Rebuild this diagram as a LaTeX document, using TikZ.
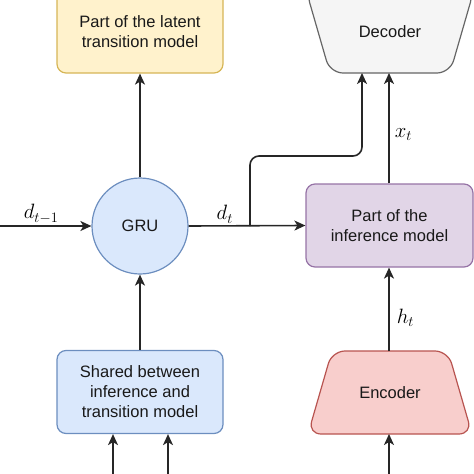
\documentclass[tikz,border=0pt]{standalone}
\usepackage{fontspec}
\setmainfont{Liberation Sans}
\usetikzlibrary{arrows.meta}
\definecolor{yelF}{HTML}{FFF2CC}\definecolor{yelD}{HTML}{D6B656}
\definecolor{bluF}{HTML}{DAE8FC}\definecolor{bluD}{HTML}{6C8EBF}
\definecolor{purF}{HTML}{E1D5E7}\definecolor{purD}{HTML}{9673A6}
\definecolor{redF}{HTML}{F8CECC}\definecolor{redD}{HTML}{B85450}
\definecolor{gryF}{HTML}{F5F5F5}\definecolor{gryD}{HTML}{666666}
\begin{document}
\begin{tikzpicture}[x=1pt,y=1pt,
  txt/.style={font=\fontsize{16.5}{20}\selectfont, align=center, text=black!90},
  box/.style={txt, draw, line width=1.2pt, rounded corners=9pt, minimum width=166pt, minimum height=83pt},
  trap/.style={line width=1.2pt, rounded corners=13pt},
  lab/.style={font=\fontsize{21}{24}\selectfont, inner sep=2pt},
  conn/.style={line width=1.6pt, draw=black!85, -{Stealth[length=11pt,width=10pt,inset=3pt]}},
  line/.style={line width=1.6pt, draw=black!85}
]
\useasboundingbox (0,0) rectangle (474,-474);
% shapes
\node[box, fill=yelF, draw=yelD] (trans) at (140,-31.5) {Part of the latent\\transition model};
\node[box, fill=bluF, draw=bluD] (shared) at (140,-392) {Shared between\\inference and\\transition model};
\node[box, fill=purF, draw=purD, minimum width=167pt] (infer) at (389.5,-225.5) {Part of the\\inference model};
\node[txt, circle, draw=bluD, fill=bluF, line width=1.2pt, minimum size=96pt, inner sep=0pt] (gru) at (140,-226) {GRU};
\draw[trap, fill=gryF, draw=gryD] (306,10) -- (474,10) -- (450,-73) -- (330,-73) -- cycle;
\node[txt] (dec) at (390,-31.5) {Decoder};
\draw[trap, fill=redF, draw=redD] (308,-434) -- (332,-351) -- (448,-351) -- (472,-434) -- cycle;
\node[txt] (enc) at (390,-392.5) {Encoder};
% anchor coordinates
\coordinate (decL) at (362,-73);
\coordinate (decR) at (389,-73);
\coordinate (encT) at (389,-351);
\coordinate (encB) at (389,-434);
\coordinate (inL) at (0,-226);
\coordinate (branch) at (250,-226);
\coordinate (in1) at (113,-474);
\coordinate (in2) at (168,-474);
\coordinate (in3) at (389,-474);
% connectors
\draw[conn] (gru.north) -- (trans.south);
\draw[conn] (shared.north) -- (gru.south);
\draw[conn] (inL) -- node[lab, above, pos=0.45] (ldt1) {$d_{t-1}$} (gru.west);
\draw[conn] (gru.east) -- node[lab, above, pos=0.31] (ldt) {$d_t$} (infer.west);
\draw[conn, rounded corners=9pt] (branch) |- (300,-156) -| (decL);
\draw[conn] (infer.north -| decR) -- node[lab, right=3pt, pos=0.44] (lxt) {$x_t$} (decR);
\draw[conn] (encT) -- node[lab, right=5pt, pos=0.4] (lht) {$h_t$} (infer.south -| encT);
\draw[conn] (in1) -- (shared.south -| in1);
\draw[conn] (in2) -- (shared.south -| in2);
\draw[conn] (in3) -- (encB);
\end{tikzpicture}
\end{document}
